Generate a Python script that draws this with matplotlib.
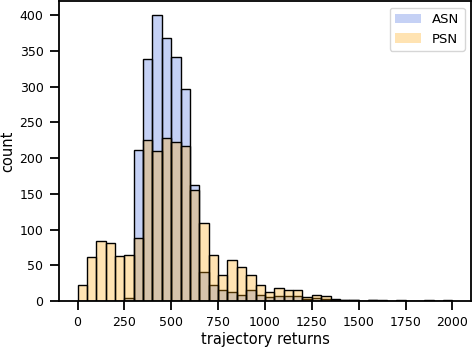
import numpy as np
import matplotlib
matplotlib.use('Agg')
import matplotlib.pyplot as plt
from matplotlib.colors import to_rgba

# bins of 50 from 0 to 2000
edges = np.arange(0, 2001, 50)

# counts per bin, ASN
asn_counts = [0, 0, 0, 0, 0, 4, 212, 339, 400, 368,
              341, 297, 162, 41, 22, 15, 13, 9, 15, 8,
              6, 7, 7, 7, 3, 4, 3, 2, 1, 1,
              0, 2, 0, 0, 0, 0, 0, 0, 0, 0]

# counts per bin, PSN
psn_counts = [23, 61, 84, 81, 63, 65, 88, 225, 210, 228,
              222, 217, 156, 109, 65, 36, 57, 47, 37, 22,
              12, 18, 16, 15, 6, 8, 7, 3, 1, 1,
              0, 2, 1, 0, 1, 0, 0, 1, 0, 1]

centros = (edges[:-1] + edges[1:]) / 2

fig = plt.figure(figsize=(4.74, 3.48), dpi=100)
ax = fig.add_axes([0.124, 0.135, 0.870, 0.862])

# transparencia so no preenchimento, borda preta solida
ax.hist(centros, bins=edges, weights=asn_counts,
        facecolor=to_rgba('royalblue', 0.3), edgecolor='black',
        linewidth=1.0, label='ASN')
ax.hist(centros, bins=edges, weights=psn_counts,
        facecolor=to_rgba('orange', 0.3), edgecolor='black',
        linewidth=1.0, label='PSN')

ax.set_xticks(np.arange(0, 2001, 250))
ax.set_yticks(np.arange(0, 401, 50))
ax.tick_params(labelsize=9, length=6.5, width=1.3, pad=4.5)
ax.set_xlabel('trajectory returns', fontsize=10.5, labelpad=2)
ax.set_ylabel('count', fontsize=10.5, labelpad=3)
for s in ax.spines.values():
    s.set_linewidth(1.3)

leg = ax.legend(loc='upper right', fontsize=9.5)
for h in leg.legend_handles:
    h.set_edgecolor('none')

fig.savefig('out.png', dpi=100)
